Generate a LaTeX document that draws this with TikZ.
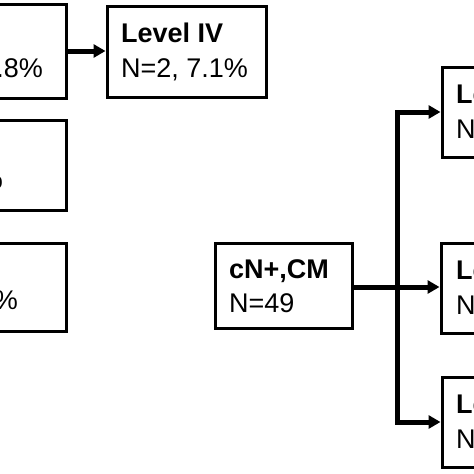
\documentclass[tikz,border=0pt]{standalone}
\usepackage{fontspec}
\setmainfont{Liberation Sans}
\usetikzlibrary{arrows.meta,calc}
\begin{document}
\begin{tikzpicture}[x=1pt,y=-1pt,
  box/.style={draw=black,line width=3pt,rectangle,inner sep=0pt},
  txt/.style={inner sep=0pt,font=\fontsize{27}{35}\selectfont},
  conn/.style={line width=5pt,-{Triangle[length=12pt,width=13pt]}}]
\useasboundingbox (0,0) rectangle (474,474);
\fill[white] (0,0) rectangle (474,474);
\clip (0,0) rectangle (474,474);
% left column boxes (cut off)
\node[box,minimum width=159pt,minimum height=94pt] (A) at (-13.5,51) {};
\node[box,minimum width=159pt,minimum height=90pt] (B) at (-13.5,165) {};
\node[box,minimum width=159pt,minimum height=88pt] (C) at (-13.5,287) {};
\node[txt,anchor=base east] (tA) at (43,77) {7.8\%};
\node[txt,anchor=base east] (tB) at (3,188) {\%};
\node[txt,anchor=base east] (tC) at (18,309) {1\%};
% Level IV
\node[box,minimum width=159pt,minimum height=91pt] (L4) at (186.5,51.5) {};
\node[txt,anchor=base west] (L4a) at (121,42) {\textbf{Level IV}};
\node[txt,anchor=base west] (L4b) at (121,77) {N=2, 7.1\%};
% cN+,CM
\node[box,minimum width=137pt,minimum height=85pt] (cn) at (283.5,285.5) {};
\node[txt,anchor=base west] (cna) at (229,278) {\textbf{cN+,CM}};
\node[txt,anchor=base west] (cnb) at (229,312) {N=49};
% right boxes (cut off)
\node[box,minimum width=120pt,minimum height=90pt] (R1) at (502,112) {};
\node[box,minimum width=120pt,minimum height=90pt] (R2) at (501,288) {};
\node[box,minimum width=120pt,minimum height=90pt] (R3) at (502,422) {};
\node[txt,anchor=base west] (R1a) at (456,103) {\textbf{Le}};
\node[txt,anchor=base west] (R1b) at (456,138) {N};
\node[txt,anchor=base west] (R2a) at (456,279) {\textbf{Le}};
\node[txt,anchor=base west] (R2b) at (456,314) {N};
\node[txt,anchor=base west] (R3a) at (456,413) {\textbf{Le}};
\node[txt,anchor=base west] (R3b) at (456,448) {N};
% connectors
\draw[conn] (A.east) -- (A.east -| L4.west);
\coordinate (j) at (397,287);
\draw[conn] (cn.east |- j) -- (j -| R2.west);
\draw[conn] (j) |- (R1.west);
\draw[conn] (j) |- (R3.west);
\end{tikzpicture}
\end{document}
